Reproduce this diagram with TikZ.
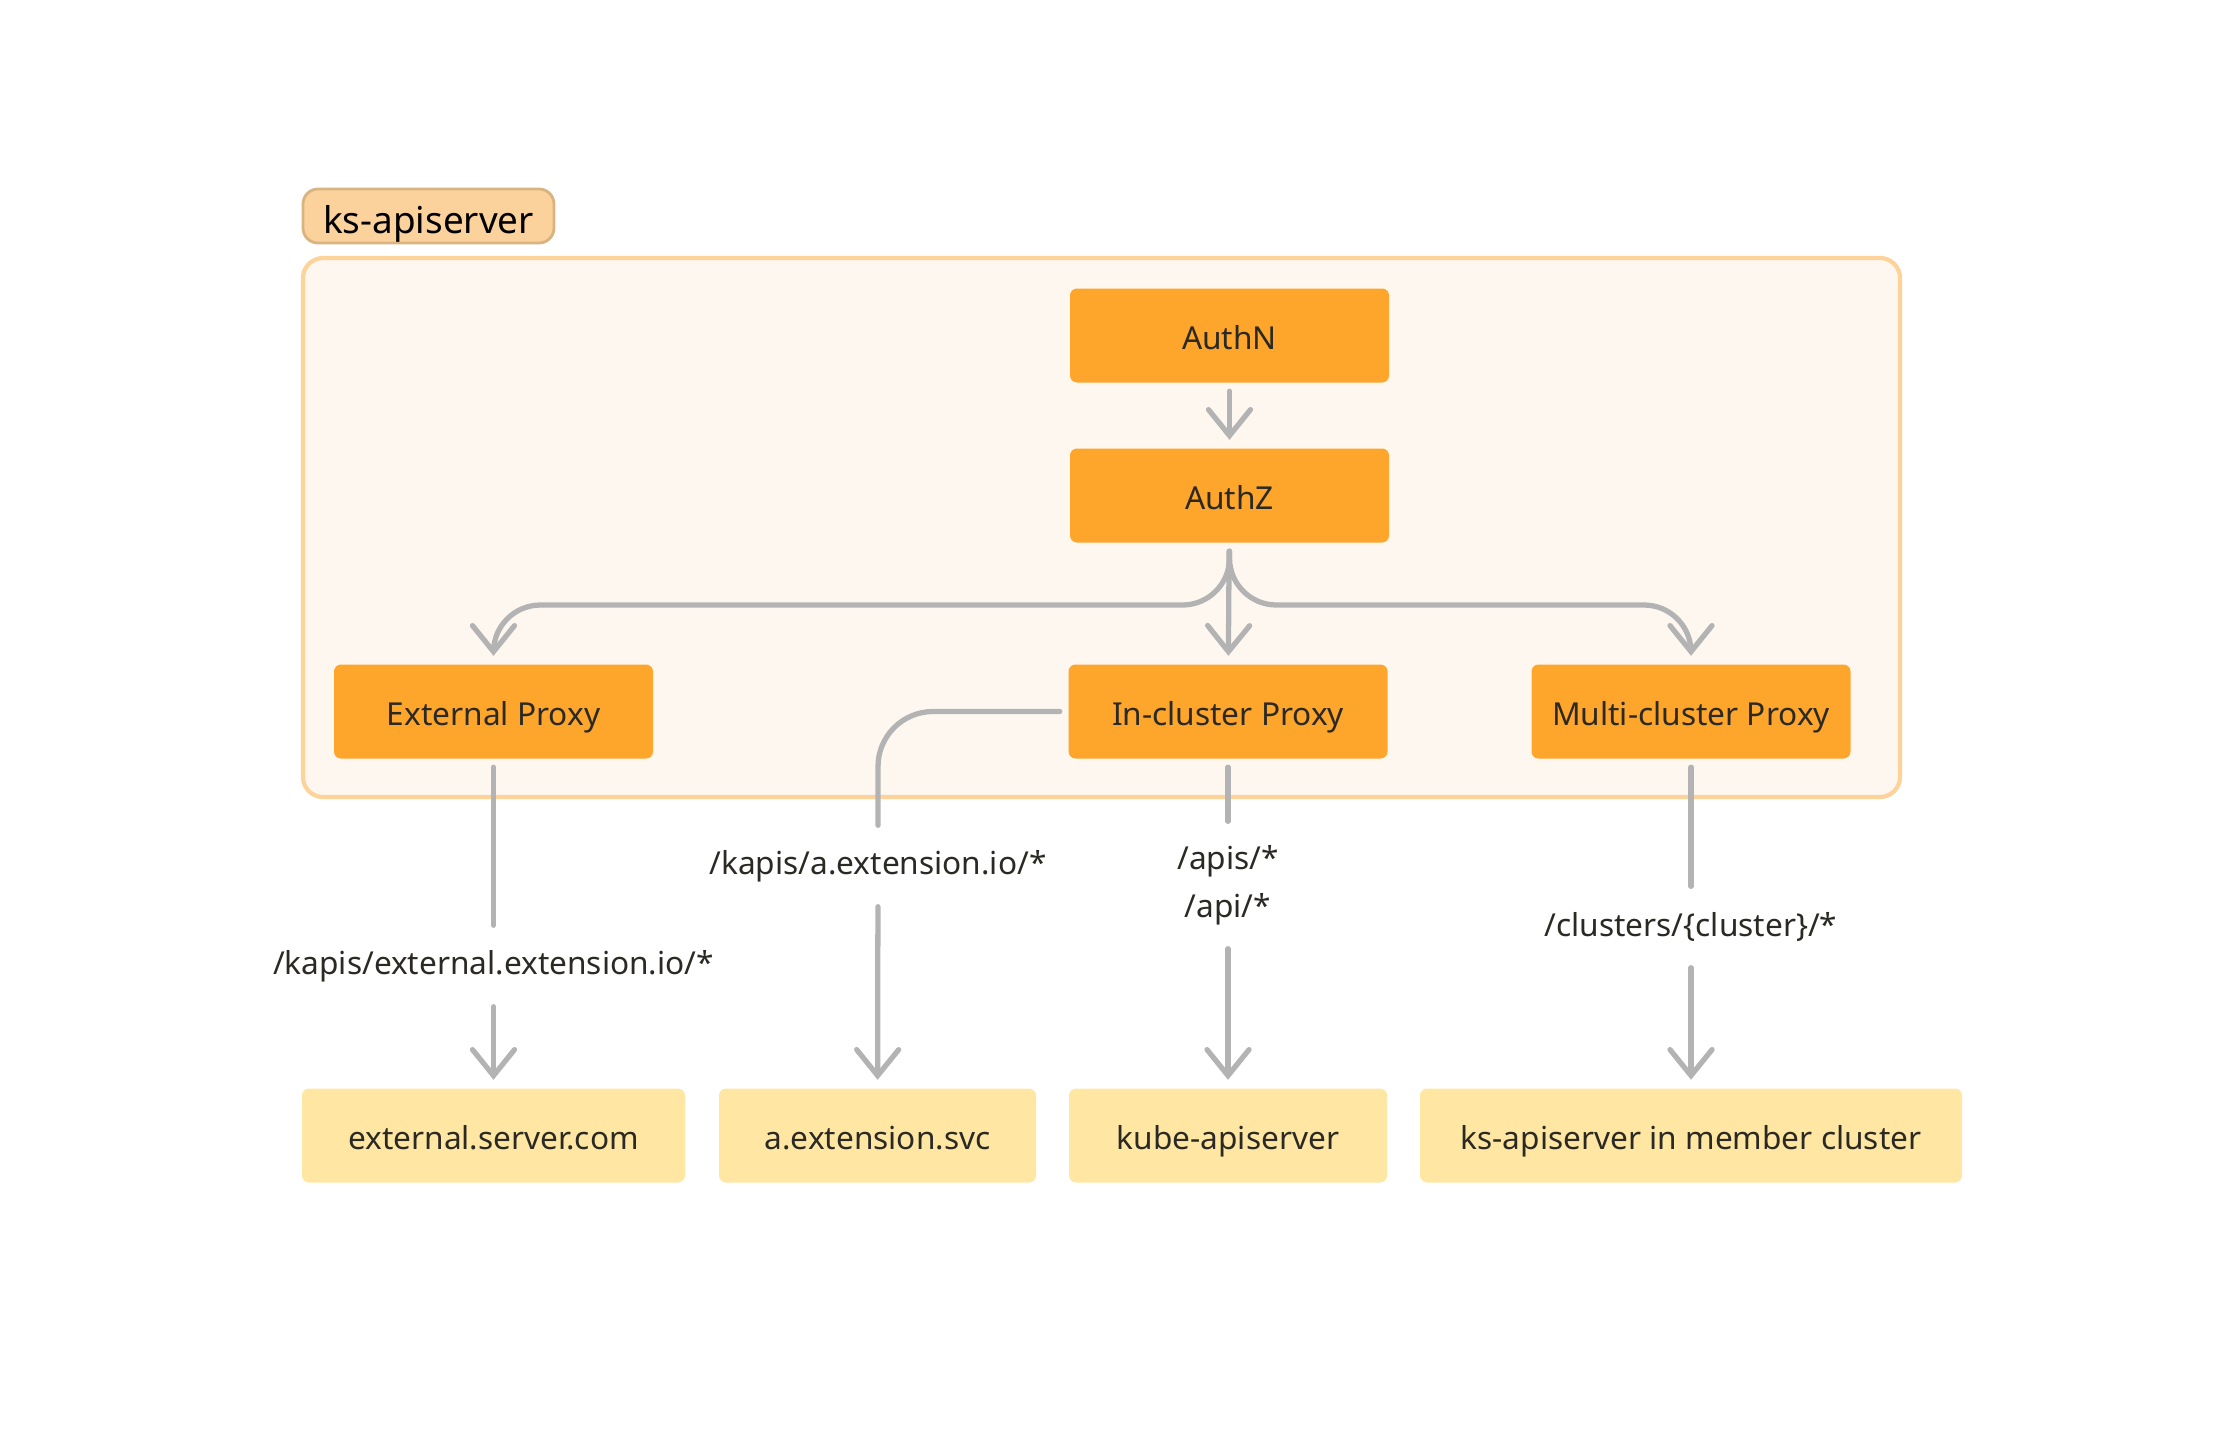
\documentclass[tikz,border=0pt]{standalone}
\usepackage{fontspec}
\setmainfont{Noto Sans}
\usetikzlibrary{arrows.meta}

\definecolor{proxyorange}{HTML}{FEA52B}
\definecolor{backfill}{HTML}{FEF7F0}
\definecolor{backline}{HTML}{FDD39A}
\definecolor{tagfill}{HTML}{FBD29B}
\definecolor{tagline}{HTML}{D9B380}
\definecolor{targetfill}{HTML}{FFE7A3}
\definecolor{linkgray}{HTML}{B3B3B3}
\definecolor{inktext}{HTML}{2B2924}

\begin{document}
\begin{tikzpicture}[
  box/.style={rectangle,rounded corners=2pt,minimum width=3.19cm,minimum height=0.94cm,
    text height=0.8em,text depth=0pt,text=inktext,font=\fontsize{9}{11}\selectfont},
  stagebox/.style={box,fill=proxyorange},
  targetbox/.style={box,fill=targetfill},
  route/.style={inner sep=0pt,minimum height=0.8cm,text=inktext,align=center,
    font=\fontsize{9}{13.6}\selectfont},
  link/.style={line width=1.5pt,linkgray,line cap=round,shorten <=0.08cm},
  flow/.style={link,-{Straight Barb[length=0.26cm,width=0.42cm,line cap=round]},shorten >=0.08cm},
  drop/.style={flow,shorten <=0pt}
]
\useasboundingbox (0,0) rectangle (22.2,-14.4);

% apiserver area
\draw[line width=1.2pt,backline,fill=backfill,rounded corners=0.2cm] (3.03,-2.58) rectangle (19.0,-7.97);
\node[draw=tagline,line width=0.8pt,fill=tagfill,rounded corners=0.15cm,inner sep=0pt,
  minimum width=2.51cm,minimum height=0.54cm,text height=1em,text depth=0pt,
  font=\fontsize{10.5}{12}\selectfont] (tag) at (4.285,-2.16) {ks-apiserver};

\node[stagebox] (authn) at (12.295,-3.355) {AuthN};
\node[stagebox] (authz) at (12.295,-4.955) {AuthZ};

\node[stagebox] (ext) at (4.935,-7.115) {External Proxy};
\node[stagebox] (incl) at (12.28,-7.115) {In-cluster Proxy};
\node[stagebox] (multi) at (16.91,-7.115) {Multi-cluster Proxy};

\node[targetbox,minimum width=3.83cm] (extsrv) at (4.935,-11.355) {external.server.com};
\node[targetbox,minimum width=3.17cm] (svc) at (8.775,-11.355) {a.extension.svc};
\node[targetbox,minimum width=3.18cm] (kube) at (12.28,-11.355) {kube-apiserver};
\node[targetbox,minimum width=5.42cm] (member) at (16.91,-11.355) {ks-apiserver in member cluster};

\node[route] (r1) at (4.935,-9.66) {/kapis/external.extension.io/*};
\node[route] (r2) at (8.78,-8.66) {/kapis/a.extension.io/*};
\node[route,minimum height=1.26cm] (r3) at (12.28,-8.85) {/apis/*\\/api/*};
\node[route] (r4) at (16.91,-9.27) {/clusters/\{cluster\}/*};

\coordinate (fork) at (12.295,-6.05);

% links
\draw[flow] (authn) -- (authz);
\draw[flow] (authz) -- (incl);
\draw[flow,rounded corners=0.47cm] (authz.south) -- (fork) -- (fork -| ext) -- (ext.north);
\draw[flow,rounded corners=0.47cm] (authz.south) -- (fork) -- (fork -| multi) -- (multi.north);

\draw[link] (ext) -- (r1);
\draw[drop] (r1) -- (extsrv);
\draw[link,rounded corners=0.55cm] (incl.west) -- (incl.west -| r2) -- (r2.north);
\draw[drop] (r2) -- (svc);
\draw[link] (incl) -- (r3);
\draw[drop] (r3) -- (kube);
\draw[link] (multi) -- (r4);
\draw[drop] (r4) -- (member);
\end{tikzpicture}
\end{document}
